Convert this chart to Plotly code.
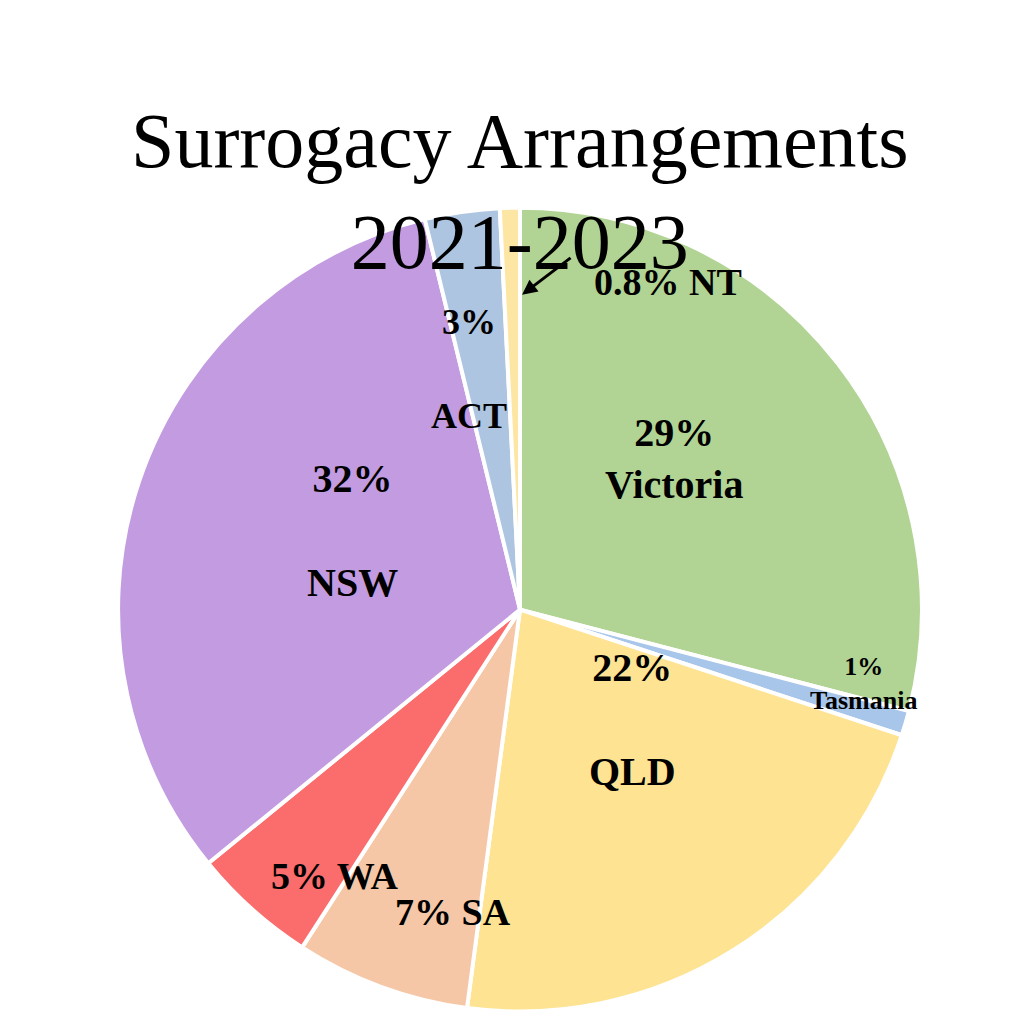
import plotly.graph_objects as go

states = ["Victoria", "Tasmania", "QLD", "SA", "WA", "NSW", "ACT", "NT"]
shares = [29, 1, 22, 7, 5, 32, 3, 0.8]
colors = ["#b1d494", "#a8c6ea", "#fde392", "#f6c7a6", "#fb6c6c",
          "#c39be0", "#adc5e0", "#fde6a4"]

fig = go.Figure(go.Pie(
    labels=states, values=shares, sort=False, direction="clockwise",
    rotation=0, textinfo="none", hoverinfo="label+percent",
    marker=dict(colors=colors, line=dict(color="white", width=4)),
    domain=dict(x=[0.105, 0.895], y=[0.02, 0.805]),
    showlegend=False,
))

font = "Liberation Serif"
labels = [
    (0.72, 0.56, "29%<br>Victoria", 40),
    (0.89, 0.34, "1%<br>Tasmania", 26),
    (0.61, 0.23, "22%<br><br>QLD", 40),
    (0.435, 0.095, "7% SA", 38),
    (0.255, 0.13, "5% WA", 38),
    (0.29, 0.49, "32%<br><br>NSW", 40),
    (0.45, 0.715, "3%<br><br>ACT", 36),
    (0.645, 0.755, "0.8% NT", 38),
]
ann = [dict(x=x, y=y, xref="paper", yref="paper", text="<b>%s</b>" % t,
            showarrow=False, font=dict(family=font, size=s, color="black"))
       for x, y, t, s in labels]
ann.append(dict(x=0.502, y=0.72, ax=50, ay=-38, xref="paper", yref="paper",
                axref="pixel", ayref="pixel", text="", showarrow=True,
                arrowhead=2, arrowwidth=3, arrowcolor="black"))
ann.append(dict(x=0.5, y=0.915, xref="paper", yref="paper", showarrow=False,
                text="Surrogacy Arrangements<br>2021-2023",
                font=dict(family=font, size=78, color="black")))

fig.update_layout(width=1024, height=1024, margin=dict(l=0, r=0, t=0, b=0),
                  paper_bgcolor="white", annotations=ann)
fig.write_html("out.html")
